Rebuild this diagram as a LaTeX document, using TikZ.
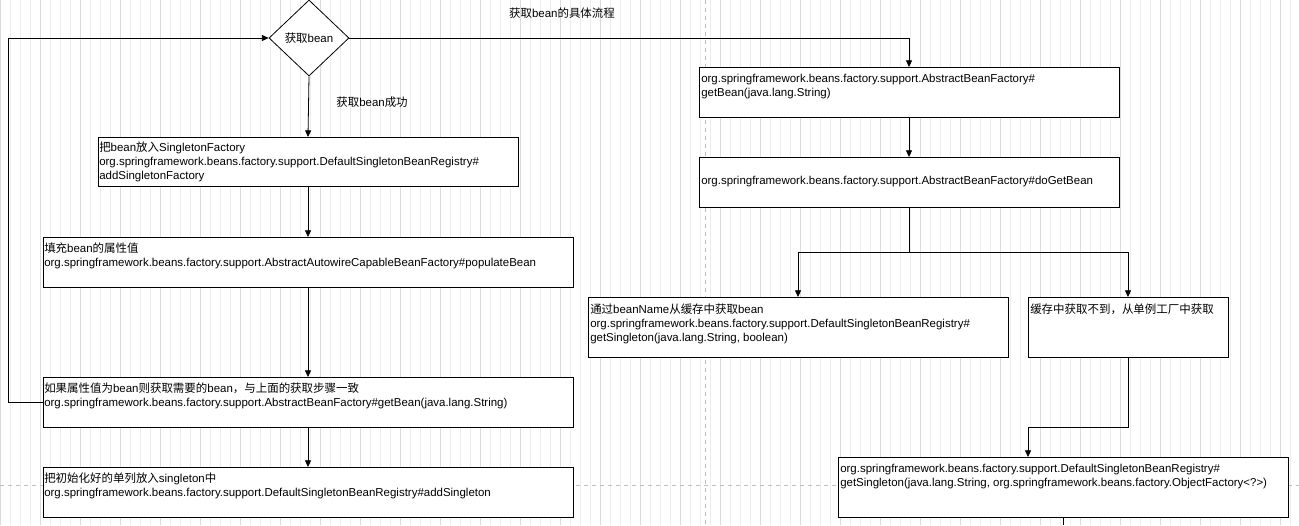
\documentclass[tikz,border=0pt]{standalone}
\usepackage{fontspec}
\setmainfont{Liberation Sans}
\newfontfamily\cjk{Noto Sans CJK SC}
\usetikzlibrary{arrows.meta,shapes.geometric}
\begin{document}
\begin{tikzpicture}[x=0.75pt,y=-0.75pt,
  every node/.style={font=\fontsize{8.6}{10.5}\selectfont,inner sep=0pt},
  box/.style={draw,fill=white,line width=0.6pt},
  txt/.style={anchor=north west,align=left},
  arr/.style={draw,line width=0.6pt,-{Triangle[width=4.5pt,length=5pt]}},
  ln/.style={draw,line width=0.6pt}]
\useasboundingbox (0,0) rectangle (1299,525);
\fill[white] (0,0) rectangle (1299,525);
\draw[black!7,line width=0.3pt,step=10] (0,0) grid (1299,525);
\draw[black!14,line width=0.4pt,step=40] (0,0) grid (1299,525);
\draw[black!25,dashed,line width=0.4pt] (705,0) -- (705,525);
\draw[black!25,dashed,line width=0.4pt] (0,485) -- (1299,485);
% diamond
\node[diamond,draw,fill=white,line width=0.6pt,minimum width=80*0.75pt,minimum height=76*0.75pt,aspect=1.05] (d) at (309,38) {{\cjk 获取}bean};
\node (title) at (562,13) {{\cjk 获取}bean{\cjk 的具体流程}};
\node (ok) at (372,102) {{\cjk 获取}bean{\cjk 成功}};
% left boxes
\path[box] (98,137) rectangle (518,186) coordinate (b1c);
\coordinate (b1t) at (308,137); \coordinate (b1b) at (308,186);
\node[txt] (b1) at (99,142) {{\cjk 把}bean{\cjk 放入}SingletonFactory\\org.springframework.beans.factory.support.DefaultSingletonBeanRegistry\#\\addSingletonFactory};
\path[box] (43,237) rectangle (573,287);
\coordinate (b2t) at (308,237); \coordinate (b2b) at (308,287);
\node[txt] (b2) at (44,243) {{\cjk 填充}bean{\cjk 的属性值}\\org.springframework.beans.factory.support.AbstractAutowireCapableBeanFactory\#populateBean};
\path[box] (43,377) rectangle (573,427);
\coordinate (b3t) at (308,377); \coordinate (b3b) at (308,427); \coordinate (b3l) at (43,402);
\node[txt] (b3) at (44,383) {{\cjk 如果属性值为}bean{\cjk 则获取需要的}bean{\cjk ，与上面的获取步骤一致}\\org.springframework.beans.factory.support.AbstractBeanFactory\#getBean(java.lang.String)};
\path[box] (43,467) rectangle (573,517);
\coordinate (b4t) at (308,467);
\node[txt] (b4) at (44,473) {{\cjk 把初始化好的单列放入}singleton{\cjk 中}\\org.springframework.beans.factory.support.DefaultSingletonBeanRegistry\#addSingleton};
% right boxes
\path[box] (699,67) rectangle (1119,117);
\coordinate (r1t) at (909,67); \coordinate (r1b) at (909,117);
\node[txt] (r1) at (701,74) {org.springframework.beans.factory.support.AbstractBeanFactory\#\\getBean(java.lang.String)};
\path[box] (699,157) rectangle (1119,207);
\coordinate (r2t) at (909,157); \coordinate (r2b) at (909,207);
\node[anchor=west] (r2) at (701,182) {org.springframework.beans.factory.support.AbstractBeanFactory\#doGetBean};
\path[box] (588,297) rectangle (1008,357);
\coordinate (r3t) at (798,297);
\node[txt] (r3) at (590,304) {{\cjk 通过}beanName{\cjk 从缓存中获取}bean\\org.springframework.beans.factory.support.DefaultSingletonBeanRegistry\#\\getSingleton(java.lang.String, boolean)};
\path[box] (1028,297) rectangle (1228,357);
\coordinate (r4t) at (1128,297); \coordinate (r4b) at (1128,357);
\node[txt] (r4) at (1030,304) {{\cjk 缓存中获取不到，从单例工厂中获取}};
\path[box] (838,457) rectangle (1288,517);
\coordinate (r5t) at (1028,457); \coordinate (r5b) at (1063,517);
\node[txt] (r5) at (840,464) {org.springframework.beans.factory.support.DefaultSingletonBeanRegistry\#\\getSingleton(java.lang.String, org.springframework.beans.factory.ObjectFactory<?>)};
\coordinate (end) at (1063,525);
% connectors
\draw[arr] (d.east) -| (r1t);
\draw[arr] (r1b) -- (r2t);
\draw[ln] (r2b) -- (909,252) coordinate (split);
\draw[arr] (split) -| (r3t);
\draw[arr] (split) -| (r4t);
\draw[arr] (r4b) -- (1128,427) -| (r5t);
\draw[ln] (r5b) -- (end);
\draw[arr] (d.south) -- (b1t);
\draw[arr] (b1b) -- (b2t);
\draw[arr] (b2b) -- (b3t);
\draw[arr] (b3b) -- (b4t);
\draw[arr] (b3l) -- (8,402) -- (8,38) -- (d.west);
\end{tikzpicture}
\end{document}
